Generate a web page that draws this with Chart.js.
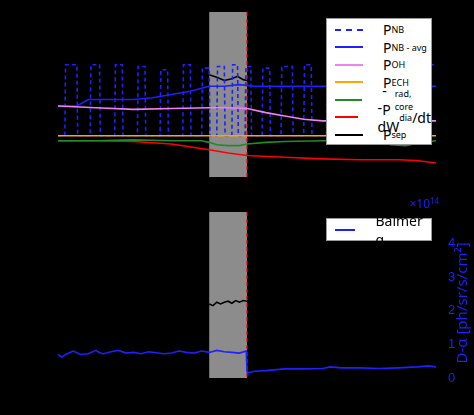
<!DOCTYPE html>
<html><head><meta charset="utf-8">
<script src="https://cdn.jsdelivr.net/npm/chart.js@4"></script>
<style>
body{margin:0;background:#000;width:474px;height:415px;overflow:hidden;font-family:"Noto Sans",sans-serif}
canvas{position:absolute;left:0}
.leg{position:absolute;background:#fff;border:1px solid #999;font-size:14px;color:#000}
.row{display:flex;align-items:center;height:17.5px}
.sw{width:28px;margin:0 20px 0 8px;height:0;border-top:2px solid}
sub{font-size:9px}
</style></head><body>
<canvas id="top" width="474" height="190" style="top:0"></canvas>
<canvas id="bot" width="474" height="220" style="top:195px"></canvas>
<div class="leg" style="left:326px;top:18px;width:104px;height:123px;padding-top:2px">
 <div class="row"><span class="sw" style="border-top:2px dashed #1f1fff"></span>P<sub>NB</sub></div>
 <div class="row"><span class="sw" style="border-color:#1f1fff"></span>P<sub>NB - avg</sub></div>
 <div class="row"><span class="sw" style="border-color:#ee82ee"></span>P<sub>OH</sub></div>
 <div class="row"><span class="sw" style="border-color:#ffa500"></span>P<sub>ECH</sub></div>
 <div class="row"><span class="sw" style="border-color:#228b22"></span>-P<sub>rad, core</sub></div>
 <div class="row"><span class="sw" style="border-color:#ff0000"></span>-dW<sub>dia</sub>/dt</div>
 <div class="row"><span class="sw" style="border-color:#000"></span>P<sub>sep</sub></div>
</div>
<div class="leg" style="left:326px;top:218px;width:104px;height:21px">
 <div class="row" style="height:21px"><span class="sw" style="border-color:#1f1fff;width:22px"></span>Balmer α</div>
</div>
<script>
// time axis in arbitrary units 0..100
var bandStart = 40, bandEnd = 50;

var pnbX = [0,1.8,2,5,5.2,8.5,8.7,11,11.2,15,15.2,17,17.2,21,21.2,23,23.2,27,27.2,29,29.2,33,33.2,35,35.2,38,38.2,40,40.2,42,42.2,44,44.2,46,46.2,47.5,47.7,49.5,49.7,51,51.2,54,54.2,56,56.2,59,59.2,62,62.2,65,65.2,67,67.2,71,71.2,74,74.2,77,77.2,80,80.2,84,84.2,87,87.2,91,91.2,94,94.2,97,97.2,100];
var pnbY = [2.5,2.5,6.8,6.8,2.5,2.5,6.8,6.8,2.5,2.5,6.8,6.8,2.5,2.5,6.7,6.7,2.5,2.5,6.5,6.5,2.5,2.5,6.8,6.8,2.5,2.5,6.6,6.6,2.5,2.5,6.7,6.7,2.5,2.5,6.8,6.8,2.5,2.5,6.7,6.7,2.5,2.5,6.6,6.6,2.5,2.5,6.7,6.7,2.5,2.5,6.8,6.8,2.5,2.5,6.7,6.7,2.5,2.5,6.8,6.8,2.5,2.5,6.7,6.7,2.5,2.5,6.8,6.8,2.5,2.5,6.8,6.8];
var avgX = [0,5,8,12,20,25,30,35,40,44,48,52,60,70,80,90,100];
var avgY = [4.3,4.3,4.7,4.7,4.7,4.8,5.0,5.2,5.5,5.5,5.6,5.5,5.5,5.5,5.4,5.5,5.5];
var ohX = [0,10,20,30,40,45,50,55,60,65,70,80,90,100];
var ohY = [4.3,4.2,4.1,4.15,4.2,4.2,4.15,3.9,3.7,3.5,3.4,3.4,3.4,3.4];
var echX = [0,100];
var echY = [2.5,2.5];
var radX = [0,10,20,30,38,40,42,45,48,50,55,60,70,80,85,88,92,95,100];
var radY = [2.2,2.2,2.25,2.2,2.2,2.1,1.95,1.9,1.9,2.0,2.1,2.15,2.2,2.2,2.2,1.95,1.9,2.05,2.2];
var dwX = [0,10,20,30,40,45,50,60,70,80,90,95,100];
var dwY = [2.2,2.2,2.15,2.0,1.65,1.45,1.3,1.2,1.1,1.05,1.05,1.0,0.85];
var sepX = [40,42,44,46,47.5,49,50];
var sepY = [6.2,6.05,5.85,5.95,6.1,5.9,5.85];

var baX = [0,1,2,4,6,8,10,11,12,14,16,18,20,22,24,26,28,30,32,34,36,38,40,42,44,46,48,49.8,50,50.2,52,55,60,65,70,72,75,80,85,90,95,98,100];
var baY = [0.7,0.62,0.7,0.8,0.7,0.72,0.82,0.75,0.72,0.78,0.82,0.74,0.76,0.72,0.78,0.75,0.72,0.74,0.8,0.76,0.74,0.8,0.76,0.82,0.78,0.76,0.74,0.8,0.2,0.15,0.2,0.22,0.27,0.27,0.28,0.33,0.3,0.3,0.28,0.3,0.33,0.36,0.33];
var bbX = [40,41,42,43,44,45,46,47,48,49,50];
var bbY = [2.2,2.15,2.25,2.2,2.25,2.28,2.22,2.3,2.25,2.3,2.28];
var rightTicks = [0,1,2,3,4];

function pts(xs, ys){ return xs.map(function(x,i){ return {x:x, y:ys[i]}; }); }
function ds(xs, ys, c, dash){ return {data:pts(xs,ys), borderColor:c, borderWidth:1.6, pointRadius:0, borderDash:dash||[], tension:0}; }

var bandPlugin = {
  id:'band',
  beforeDatasetsDraw:function(chart){
    var ctx=chart.ctx, x=chart.scales.x, a=chart.chartArea;
    var x0=x.getPixelForValue(bandStart), x1=x.getPixelForValue(bandEnd);
    ctx.save();
    ctx.fillStyle='#8c8c8c';
    ctx.fillRect(x0,a.top,x1-x0,a.bottom-a.top);
    ctx.strokeStyle='#ff0000'; ctx.lineWidth=1.2; ctx.setLineDash([4,3]);
    ctx.beginPath(); ctx.moveTo(x1,a.top); ctx.lineTo(x1,a.bottom); ctx.stroke();
    ctx.restore();
  }
};

new Chart(document.getElementById('top'), {
  type:'line',
  data:{datasets:[
    ds(echX,echY,'#ffa500'),
    ds(radX,radY,'#228b22'),
    ds(dwX,dwY,'#ff0000'),
    ds(ohX,ohY,'#ee82ee'),
    ds(pnbX,pnbY,'#1f1fff',[4,3]),
    ds(avgX,avgY,'#1f1fff'),
    ds(sepX,sepY,'#000000')
  ]},
  options:{
    responsive:false, animation:false,
    layout:{padding:{left:58,right:38,top:12,bottom:13}},
    plugins:{legend:{display:false},tooltip:{enabled:false}},
    scales:{
      x:{type:'linear',min:0,max:100,display:false},
      y:{min:0,max:10,display:false}
    }
  },
  plugins:[bandPlugin]
});

new Chart(document.getElementById('bot'), {
  type:'line',
  data:{datasets:[
    ds(baX,baY,'#1f1fff'),
    ds(bbX,bbY,'#000000')
  ]},
  options:{
    responsive:false, animation:false,
    layout:{padding:{left:58,right:0,top:17,bottom:37}},
    plugins:{legend:{display:false},tooltip:{enabled:false}},
    scales:{
      x:{type:'linear',min:0,max:100,display:false},
      y:{position:'right',min:0,max:4.93,
        afterFit:function(s){ s.width=38; },
        afterBuildTicks:function(s){ s.ticks=rightTicks.map(function(v){return {value:v};}); },
        grid:{display:false}, border:{display:false},
        ticks:{color:'#1f1fff',font:{size:13},padding:4}
      }
    }
  },
  plugins:[bandPlugin,{
    id:'labels',
    afterDraw:function(chart){
      var ctx=chart.ctx, a=chart.chartArea;
      ctx.save();
      ctx.fillStyle='#1f1fff';
      ctx.font='12px "Noto Sans"';
      ctx.textAlign='right'; ctx.textBaseline='bottom';
      ctx.fillText('×10',a.right-6,a.top-1);
      ctx.font='8px "Noto Sans"';
      ctx.textAlign='left';
      ctx.fillText('14',a.right-6,a.top-6);
      ctx.translate(463,(a.top+a.bottom)/2+8);
      ctx.rotate(-Math.PI/2);
      ctx.textAlign='center'; ctx.textBaseline='middle';
      ctx.font='15px "Noto Sans"';
      ctx.fillText('D-α [ph/sr/s/cm²]',0,0);
      ctx.restore();
    }
  }]
});
</script>
</body></html>
